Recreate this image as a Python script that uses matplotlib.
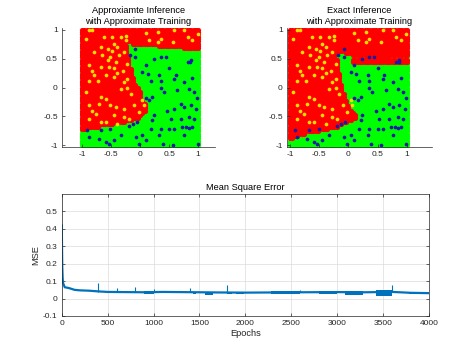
import numpy as np
import matplotlib
matplotlib.use('agg')
import matplotlib.pyplot as plt
from matplotlib.path import Path

plt.rcParams['font.family'] = ['Liberation Sans', 'DejaVu Sans']

# training points (same set in both panels)
yellow_x = [-0.88, -0.82, -0.94, -0.62, -0.48, -0.33, -0.25, -0.25, 0.10, 0.30, 0.36, 0.59,
            0.76, 0.82, 0.90, 0.99, 0.56, 0.30, 0.16, -0.45, -0.68, -0.56, -0.48, -0.39,
            -0.79, -0.65, -0.51, -0.36, -0.28, -0.56, -0.42, -0.88, -0.68, -0.53, -0.45,
            -0.30, -0.79, -0.59, -0.45, -0.39, -0.22, -0.28, -0.88, -0.73, -0.82, -0.22,
            -0.94, -0.68, -0.59, -0.33, -0.16, -0.22, -0.88, -0.71, -0.82, -0.76, -0.51,
            -0.42, -0.28, -0.10, 0.04, 0.07, -0.68, -0.59, -0.45, -0.28, -0.19, -0.02,
            -0.88, -0.39]
yellow_y = [1.00, 0.99, 0.84, 0.87, 0.88, 0.87, 0.90, 0.83, 0.94, 0.96, 0.84, 1.00,
            0.99, 0.87, 0.82, 0.93, 0.79, 0.79, 0.82, 0.76, 0.70, 0.67, 0.64, 0.70,
            0.61, 0.56, 0.53, 0.56, 0.61, 0.47, 0.44, 0.39, 0.36, 0.36, 0.33,
            0.28, 0.22, 0.22, 0.19, 0.25, 0.14, 0.09, 0.11, 0.11, 0.28, 0.41,
            -0.08, -0.17, -0.20, -0.03, -0.11, 0.00, -0.31, -0.28, -0.40, -0.45, -0.31,
            -0.34, -0.37, -0.31, -0.22, -0.31, -0.60, -0.60, -0.48, -0.51, -0.54, -0.42,
            -0.54, -0.63]
blue_x = [-0.08, -0.17, -0.08, 0.24, 0.36, 0.44, 0.10, 0.04, 0.13, 0.33, 0.50, 0.61,
          0.82, 0.87, 0.59, 0.76, 0.36, 0.18, 0.90, 0.86,
          0.10, 0.16, 0.21, 0.36, 0.41, 0.64, 0.84, 0.93, 0.98, 0.70, 0.76, 0.87, 0.96,
          0.47, 0.59, 0.24, 0.53, 0.70, 0.84, 0.93, -0.13, -0.19, -0.05, 0.18, 0.36,
          0.50, 0.59, 0.73, 0.79, 0.84, 0.90, -0.91, -0.68, -0.51, -0.88, -0.71, -0.59,
          -0.45, -0.33, -0.07, 0.04, 0.10, 0.33, 0.56, 0.76, 0.99, -0.53, -0.02, 0.39,
          0.21]
blue_y = [0.67, 0.56, 0.53, 0.50, 0.53, 0.53, 0.39, 0.27, 0.24, 0.21, 0.33, 0.22,
          0.45, 0.48, 0.14, 0.09, 0.11, 0.11, 0.17, 0.45,
          -0.19, -0.22, -0.17, 0.00, -0.08, -0.05, -0.02, -0.08, -0.19, -0.28, -0.34,
          -0.31, -0.37, -0.40, -0.37, -0.48, -0.54, -0.54, -0.51, -0.54, -0.63, -0.66,
          -0.60, -0.71, -0.71, -0.71, -0.71, -0.68, -0.68, -0.70, -0.68, -0.74, -0.74,
          -0.71, -0.86, -0.89, -0.94, -0.91, -0.83, -0.86, -0.83, -0.91, -0.83, -1.00,
          -0.83, -0.97, -0.97, -0.97, -0.97, -0.57]

# green (class 2) decision regions, boundary
green_left = [(-0.25, 0.77), (0.3, 0.72), (1.1, 0.65), (1.1, -1.1), (-1.1, -1.1),
              (-1.1, -0.75), (-0.91, -0.71), (-0.56, -0.66), (-0.28, -0.6), (-0.05, -0.54),
              (0.01, -0.48), (0.1, -0.4), (0.1, -0.31), (0.04, -0.2), (-0.02, 0.03),
              (-0.08, 0.05), (-0.16, 0.35), (-0.2, 0.55)]
green_right = [(-0.22, 0.64), (0.07, 0.57), (0.07, 0.55), (1.1, 0.55), (1.1, -1.1),
               (-1.1, -1.1), (-1.1, -0.93), (-0.98, -0.9), (-0.79, -0.81), (-0.5, -0.76),
               (-0.15, -0.67), (0.13, -0.53), (0.12, -0.45), (0.05, -0.38), (-0.07, -0.16),
               (-0.15, 0.18)]
red_notch_right = [(0.07, 0.42), (1.1, 0.42), (1.1, 0.5), (0.64, 0.5), (0.64, 0.56),
                   (0.42, 0.56), (0.42, 0.5), (0.07, 0.5)]

# MSE curve
mse_epochs = [1, 3, 6, 10, 14, 33, 80, 140, 200, 300, 400, 500, 700, 900,
              1100, 1300, 1500, 1700, 2000, 2300, 2600, 3000, 3300, 3600, 3800, 4000]
mse_values = [0.42, 0.30, 0.18, 0.12, 0.09, 0.065, 0.060, 0.050, 0.047, 0.045, 0.041,
              0.038, 0.037, 0.036, 0.038, 0.037, 0.036, 0.035,
              0.034, 0.035, 0.036, 0.037, 0.036, 0.038, 0.033, 0.031]
band_start = [900, 1090, 1430, 1560, 1800, 1900, 2280, 2800, 3080, 3420, 3780]
band_end = [1000, 1300, 1460, 1650, 1850, 1980, 2600, 3000, 3280, 3600, 3900]
band_low = [0.028, 0.032, 0.028, 0.022, 0.025, 0.028, 0.026, 0.028, 0.022, 0.017, 0.026]
band_high = [0.042, 0.045, 0.040, 0.036, 0.040, 0.040, 0.045, 0.045, 0.045, 0.050, 0.038]
spike_epochs = [400, 600, 800, 1000, 1400, 1800, 2600, 3600]
spike_values = [0.088, 0.060, 0.068, 0.055, 0.060, 0.080, 0.050, 0.075]

RED, GREEN = '#ff0000', '#00ff00'
YELLOW, BLUE = '#ffdd00', '#1a1aa8'
AXC = '#262626'
LINE = '#0072bd'

g = np.arange(-1.0, 1.0001, 0.04)
gx, gy = np.meshgrid(g, g)
pts = np.column_stack([gx.ravel(), gy.ravel()])

fig = plt.figure(figsize=(4.74, 3.55), dpi=100)


def region_panel(rect, xlim, is_green, title):
    ax = fig.add_axes(rect)
    ax.scatter(pts[is_green, 0], pts[is_green, 1], s=14, c=GREEN, marker='o', lw=0)
    ax.scatter(pts[~is_green, 0], pts[~is_green, 1], s=14, c=RED, marker='o', lw=0)
    ax.scatter(yellow_x, yellow_y, s=7, c=YELLOW, lw=0)
    ax.scatter(blue_x, blue_y, s=7, c=BLUE, lw=0)
    ax.set_xlim(xlim)
    ax.set_ylim(-1.03, 1.03)
    ax.set_xticks([-1, -0.5, 0, 0.5, 1])
    ax.set_yticks([-1, -0.5, 0, 0.5, 1])
    ax.set_xticklabels(['-1', '-0.5', '0', '0.5', '1'])
    ax.set_yticklabels(['-1', '-0.5', '0', '0.5', '1'])
    for s in ['top', 'right']:
        ax.spines[s].set_visible(False)
    for s in ['left', 'bottom']:
        ax.spines[s].set_color(AXC)
        ax.spines[s].set_linewidth(0.5)
    ax.tick_params(direction='in', length=2, width=0.5, color=AXC, labelsize=6,
                   labelcolor=AXC, pad=3)
    ax.set_title(title, fontsize=6.7, pad=3, linespacing=1.25)
    return ax


in_left = Path(green_left).contains_points(pts)
region_panel([0.1308, 0.5859, 0.3228, 0.3352], (-1.345, 1.29), in_left,
             'Approxiamte Inference\nwith Approximate Training')

in_right = Path(green_right).contains_points(pts) & ~Path(red_notch_right).contains_points(pts)
region_panel([0.6055, 0.5859, 0.3059, 0.3352], (-1.05, 1.43), in_right,
             'Exact Inference\nwith Approximate Training')

ax = fig.add_axes([0.1302, 0.1099, 0.7749, 0.3437])
ax.plot(mse_epochs, mse_values, color=LINE, lw=1.6)
for s0, s1, lo, hi in zip(band_start, band_end, band_low, band_high):
    ax.fill_between([s0, s1], [lo, lo], [hi, hi], color=LINE, lw=0)
ax.vlines(spike_epochs, 0.036, spike_values, color=LINE, lw=0.8)
ax.set_xlim(0, 4000)
ax.set_ylim(-0.1, 0.6)
ax.set_xticks(range(0, 4001, 500))
ax.set_yticks([-0.1, 0, 0.1, 0.2, 0.3, 0.4, 0.5])
ax.set_yticklabels(['-0.1', '0', '0.1', '0.2', '0.3', '0.4', '0.5'])
ax.grid(True, color='#dcdcdc', lw=0.5)
ax.set_axisbelow(True)
for s in ax.spines.values():
    s.set_color(AXC)
    s.set_linewidth(0.5)
ax.tick_params(direction='in', length=2, width=0.5, color=AXC, labelsize=6,
               labelcolor=AXC, pad=3, top=True, right=True)
ax.set_title('Mean Square Error', fontsize=6.7, pad=3)
ax.set_xlabel('Epochs', fontsize=6.7, color=AXC, labelpad=1)
ax.set_ylabel('MSE', fontsize=6.7, color=AXC, labelpad=2)

fig.savefig('out.png', dpi=100)
